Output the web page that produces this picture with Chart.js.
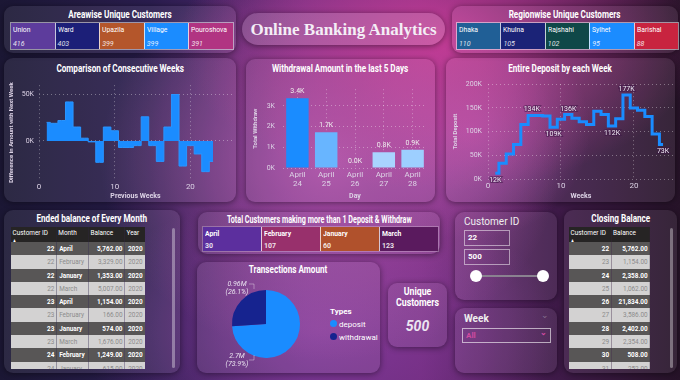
<!DOCTYPE html>
<html>
<head>
<meta charset="utf-8">
<script src="https://cdn.jsdelivr.net/npm/chart.js@4.4.1/dist/chart.umd.min.js"></script>
<style>
body{margin:0;width:680px;height:380px;overflow:hidden;position:relative;color:#fff;
  font-family:Roboto,sans-serif;
  background:
    radial-gradient(ellipse 260px 150px at 440px 40px, rgba(200,60,150,0.9), rgba(200,60,150,0) 100%),
    radial-gradient(ellipse 230px 200px at 330px 160px, rgba(180,80,170,0.9), rgba(180,80,170,0) 100%),
    radial-gradient(ellipse 120px 110px at 470px 130px, rgba(190,80,180,0.7), rgba(190,80,180,0) 100%),
    radial-gradient(ellipse 240px 140px at 320px 330px, rgba(140,60,160,0.8), rgba(140,60,160,0) 100%),
    linear-gradient(90deg,#1b1734 0%,#2a1d4e 22%,#5a2a78 45%,#6a2a78 62%,#3e1a48 82%,#261328 100%);}
.panel{position:absolute;border-radius:9px;background:rgba(255,255,255,0.08);box-shadow:0 1px 6px rgba(0,0,0,0.45);}
.ptitle{position:absolute;left:-20px;right:-20px;text-align:center;font-weight:bold;font-size:11px;line-height:12px;white-space:nowrap;}
.ptitle span,.sx{display:inline-block;transform:scaleX(0.74);}
.cards{position:absolute;display:flex;border:1px solid rgba(255,255,255,0.5);}
.card{flex:1;position:relative;border-left:1px solid rgba(255,255,255,0.75);overflow:hidden;}
.card:first-child{border-left:none;}
.card .n{position:absolute;left:2px;top:2px;font-size:8px;transform:scaleX(0.85);transform-origin:left;white-space:nowrap;}
.card .v{position:absolute;left:2px;bottom:1px;font-size:7px;font-style:italic;opacity:.85;}
#monthCards .n,#monthCards .v{font-weight:bold;font-style:normal;}
.box{position:absolute;}
.tw{position:absolute;left:0;top:0;transform:scaleX(0.8);transform-origin:0 0;}
table{border-collapse:collapse;font-size:8px;table-layout:fixed;width:100%;}
th{background:#262424;font-weight:normal;text-align:left;height:15px;padding:0 2px;vertical-align:top;line-height:11px;white-space:nowrap;}
td{height:13.3px;padding:0 3px;line-height:13.3px;white-space:nowrap;overflow:hidden;}
tr.d td{background:#585656;color:#fff;font-weight:bold;}
tr.l td{background:#d3d2d2;color:#8c8c8c;}
.scroll{position:absolute;width:3px;background:rgba(255,255,255,0.35);border-radius:2px;}
.inp{position:absolute;border:1px solid rgba(255,255,255,0.5);font-size:8px;font-weight:bold;padding-left:3px;line-height:14px;}
</style>
</head>
<body>

<!-- top row -->
<div class="panel" style="left:4px;top:6px;width:232px;height:47px;">
  <div class="ptitle" style="top:3px;"><span>Areawise Unique Customers</span></div>
  <div class="cards" id="areaCards" style="left:6px;top:16px;width:222px;height:26px;"></div>
</div>
<div class="panel" style="left:242px;top:13px;width:203px;height:32px;border-radius:16px;background:rgba(255,255,255,0.16);">
  <div style="position:absolute;left:0;right:0;top:7px;text-align:center;white-space:nowrap;font-family:'Liberation Serif',serif;font-weight:bold;font-size:17px;color:#f4eef6;">Online Banking Analytics</div>
</div>
<div class="panel" style="left:452px;top:6px;width:226px;height:47px;">
  <div class="ptitle" style="top:3px;"><span>Regionwise Unique Customers</span></div>
  <div class="cards" id="regionCards" style="left:4px;top:16px;width:221px;height:26px;"></div>
</div>

<!-- chart row -->
<div class="panel" style="left:4px;top:58px;width:232px;height:144px;">
  <div class="ptitle" style="top:5px;"><span>Comparison of Consecutive Weeks</span></div>
  <div class="box" style="left:4px;top:18px;width:226px;height:124px;"><canvas id="cmpChart"></canvas></div>
</div>
<div class="panel" style="left:246px;top:59px;width:189px;height:143px;">
  <div class="ptitle" style="top:4px;"><span>Withdrawal Amount in the last 5 Days</span></div>
  <div class="box" style="left:4px;top:18px;width:183px;height:123px;"><canvas id="wdChart"></canvas></div>
</div>
<div class="panel" style="left:446px;top:58px;width:229px;height:144px;">
  <div class="ptitle" style="top:5px;"><span>Entire Deposit by each Week</span></div>
  <div class="box" style="left:4px;top:16px;width:227px;height:126px;"><canvas id="depChart"></canvas></div>
</div>

<!-- bottom row -->
<div class="panel" style="left:4px;top:210px;width:176px;height:163px;">
  <div class="ptitle" style="top:3px;"><span>Ended balance of Every Month</span></div>
  <div class="box" style="left:7px;top:17px;width:134px;height:142px;overflow:hidden;">
    <div class="tw" style="width:167.5px;"><table id="endTable"></table></div>
  </div>
  <div class="scroll" style="left:168px;top:18px;height:140px;"></div>
</div>

<div class="panel" style="left:198px;top:212px;width:242px;height:42px;">
  <div class="ptitle" style="top:2px;font-size:10px;"><span style="transform:scaleX(0.72);">Total Customers making more than 1 Deposit &amp; Withdraw</span></div>
  <div class="cards" id="monthCards" style="left:4px;top:14px;width:235px;height:24px;border-color:rgba(255,255,255,0.25);"></div>
</div>

<div class="panel" style="left:197px;top:262px;width:183px;height:111px;">
  <div class="ptitle" style="top:2px;"><span>Transections Amount</span></div>
  <div class="box" style="left:0px;top:14px;width:110px;height:96px;"><canvas id="pieChart"></canvas></div>
  <div id="pieLegend" style="position:absolute;left:133px;top:43px;font-size:8px;line-height:13px;"></div>
</div>

<div class="panel" style="left:388px;top:283px;width:59px;height:64px;">
  <div style="position:absolute;left:-10px;right:-10px;top:3px;text-align:center;font-weight:bold;font-size:10px;line-height:11px;"><span class="sx" style="transform:scaleX(0.88);">Unique<br>Customers</span></div>
  <div id="uniqueVal" style="position:absolute;left:0;right:0;top:35px;text-align:center;font-weight:bold;font-style:italic;font-size:14px;color:#ece6f2;"></div>
</div>

<div class="panel" style="left:455px;top:212px;width:102px;height:88px;">
  <div style="position:absolute;left:9px;top:4px;font-size:10px;color:#eee;">Customer ID</div>
  <div class="inp" id="idFrom" style="left:9px;top:18px;width:41px;height:14px;"></div>
  <div class="inp" id="idTo" style="left:9px;top:37px;width:41px;height:14px;"></div>
  <div style="position:absolute;left:21px;top:63px;width:67px;height:2px;background:#8a8290;"></div>
  <div style="position:absolute;left:15px;top:58px;width:12px;height:12px;border-radius:50%;background:#fff;"></div>
  <div style="position:absolute;left:82px;top:58px;width:12px;height:12px;border-radius:50%;background:#fff;"></div>
</div>

<div class="panel" style="left:455px;top:308px;width:102px;height:65px;">
  <div style="position:absolute;left:9px;top:5px;font-size:10px;font-weight:bold;color:#eee;">Week</div>
  <div style="position:absolute;left:86px;top:2px;font-size:9px;color:rgba(255,255,255,0.3);">&#8964;</div>
  <div style="position:absolute;left:7px;top:20px;width:84px;height:13px;border:1px solid rgba(255,255,255,0.6);font-size:8px;color:#d04aa0;font-weight:bold;line-height:13px;padding-left:3px;">All<span style="position:absolute;right:3px;top:-3px;">&#8964;</span></div>
</div>

<div class="panel" style="left:564px;top:210px;width:113px;height:163px;">
  <div class="ptitle" style="top:3px;"><span>Closing Balance</span></div>
  <div class="box" style="left:5px;top:17px;width:81px;height:142px;overflow:hidden;">
    <div class="tw" style="width:101.25px;"><table id="closeTable"></table></div>
  </div>
  <div class="scroll" style="left:106px;top:18px;height:140px;"></div>
</div>

<script>
// card data
const areaNames = ['Union', 'Ward', 'Upazila', 'Village', 'Pouroshova'];
const areaCounts = [416, 403, 399, 399, 391];
const areaColors = ['#5d3c9c', '#1c1f78', '#b4562b', '#1b8cff', '#b13482'];

const regionNames = ['Dhaka', 'Khulna', 'Rajshahi', 'Sylhet', 'Barishal'];
const regionCounts = [110, 105, 102, 95, 88];
const regionColors = ['#205f96', '#1b2377', '#0f4848', '#1b8cff', '#c8243f'];

const monthNames = ['April', 'February', 'January', 'March'];
const monthCounts = [30, 107, 60, 123];
const monthColors = ['#5c2f9e', '#98306c', '#b0512c', '#5a1a5e'];

// comparison of consecutive weeks (K)
const cmpWeeks = [1,2,3,4,5,6,7,8,9,10,11,12,13,14,15,16,17,18,19,20,21,22,23];
const cmpDiff = [20,19,22,42,15,3,-1,-23,15,11,-7,-7,-5,26,-5,-22,15,50,-27,-5,-14,-33,-22];

// withdrawal last 5 days
const wdDays = [['April','24'],['April','25'],['April','26'],['April','27'],['April','28']];
const wdAmounts = [3360, 1730, 0, 760, 880];
const wdColors = ['#1a8cff', '#68b5ff', '#cde6ff', '#a9d4ff', '#9dcfff'];

// entire deposit per week (K)
const depWeeks = [1,2,3,4,5,6,7,8,9,10,11,12,13,14,15,16,17,18,19,20,21,22,23,24];
const depTotals = [12,33,53,73,115,134,134,133,109,126,136,128,121,115,143,136,112,127,177,150,145,132,95,73];
const depLabelWeeks = [1,6,9,11,17,19,24];

// transaction amounts (M)
const txTypes = ['deposit', 'withdrawal'];
const txAmounts = [2.72, 0.96];
const txColors = ['#1a8cff', '#16238f'];

const uniqueCustomers = 500;
const idRange = [22, 500];

// tables
const endRows = [
  [22,'April','5,762.00',2020],[22,'February','3,329.00',2020],[22,'January','1,353.00',2020],
  [22,'March','5,007.00',2020],[23,'April','1,154.00',2020],[23,'February','166.00',2020],
  [23,'January','574.00',2020],[23,'March','1,676.00',2020],[24,'February','1,249.00',2020],
  [24,'January','615.00',2020]
];
const closeRows = [
  [22,'5,762.00'],[23,'1,154.00'],[24,'2,358.00'],[25,'1,062.00'],[26,'21,834.00'],
  [27,'3,586.00'],[28,'2,402.00'],[29,'2,354.00'],[30,'508.00'],[31,'252.00']
];

function fillCards(id, names, values, colors) {
  const el = document.getElementById(id);
  names.forEach((n, i) => {
    const c = document.createElement('div');
    c.className = 'card';
    c.style.background = colors[i];
    c.innerHTML = '<span class="n">' + n + '</span><span class="v">' + values[i] + '</span>';
    el.appendChild(c);
  });
}
fillCards('areaCards', areaNames, areaCounts, areaColors);
fillCards('regionCards', regionNames, regionCounts, regionColors);
fillCards('monthCards', monthNames, monthCounts, monthColors);

function fillTable(id, heads, widths, aligns, rows) {
  const t = document.getElementById(id);
  let h = '<colgroup>' + widths.map(w => '<col style="width:' + w + 'px">').join('') + '</colgroup><tr>';
  heads.forEach((x, i) => {
    h += '<th>' + x + (i === 0 ? '<div style="font-size:5px;line-height:4px;">&#9650;</div>' : '') + '</th>';
  });
  h += '</tr>';
  rows.forEach((r, k) => {
    h += '<tr class="' + (k % 2 ? 'l' : 'd') + '">';
    r.forEach((v, i) => { h += '<td style="text-align:' + aligns[i] + '">' + v + '</td>'; });
    h += '</tr>';
  });
  t.innerHTML = h;
}
fillTable('endTable', ['Customer ID','Month','Balance','Year'], [57,40,45,25], ['right','left','right','right'], endRows);
fillTable('closeTable', ['Customer ID','Balance'], [53,48], ['right','right'], closeRows);

document.getElementById('uniqueVal').textContent = uniqueCustomers;
document.getElementById('idFrom').textContent = idRange[0];
document.getElementById('idTo').textContent = idRange[1];

document.getElementById('pieLegend').innerHTML = '<b>Types</b><br>' + txTypes.map((t, i) =>
  '<span style="display:inline-block;width:7px;height:7px;border-radius:50%;background:' + txColors[i] + ';margin-right:2px;"></span>' + t
).join('<br>');

// chart defaults
Chart.defaults.font.family = 'Roboto, sans-serif';
Chart.defaults.color = '#ddd3e6';
Chart.defaults.animation = false;
Chart.defaults.plugins.legend.display = false;
Chart.defaults.plugins.tooltip.enabled = false;

const gridStyle = { color: 'rgba(255,255,255,0.35)', drawTicks: false, offset: false };
const dotBorder = { display: false, dash: [1, 3] };
const tickFont = { size: 8 };
const titleFont = { size: 7, weight: 'bold' };

// Comparison of Consecutive Weeks (stepped area)
new Chart(document.getElementById('cmpChart'), {
  type: 'line',
  data: {
    datasets: [{
      data: cmpWeeks.map((w, i) => ({ x: w, y: cmpDiff[i] })),
      backgroundColor: '#1b8cff',
      borderColor: '#2a95ff',
      borderWidth: 1,
      stepped: 'middle',
      fill: 'origin',
      pointRadius: 0
    }]
  },
  options: {
    responsive: true,
    maintainAspectRatio: false,
    layout: { padding: { right: 2, top: 4 } },
    scales: {
      x: {
        type: 'linear', min: 0, max: 25.5,
        afterBuildTicks: s => { s.ticks = [0, 10, 20].map(v => ({ value: v })); },
        afterFit: s => { s.height = 20; },
        grid: gridStyle, border: dotBorder,
        ticks: { font: tickFont, padding: 2 },
        title: { display: true, text: 'Previous Weeks', font: titleFont, padding: 0 }
      },
      y: {
        min: -42, max: 60,
        afterBuildTicks: s => { s.ticks = [0, 50].map(v => ({ value: v })); },
        afterFit: s => { s.width = 31; },
        grid: gridStyle, border: dotBorder,
        ticks: { font: { size: 7 }, padding: 5, callback: v => v + 'K' },
        title: { display: true, text: 'Difference in Amount with Next Week', font: { size: 6, weight: 'bold' }, padding: 0 }
      }
    }
  }
});

// Withdrawal Amount in the last 5 Days
const barLabels = {
  id: 'barLabels',
  afterDatasetsDraw(chart) {
    const ctx = chart.ctx;
    const meta = chart.getDatasetMeta(0);
    ctx.save();
    ctx.font = '7px Roboto, sans-serif';
    ctx.fillStyle = '#eee';
    ctx.textAlign = 'center';
    meta.data.forEach((bar, i) => {
      ctx.fillText((wdAmounts[i] / 1000).toFixed(1) + 'K', bar.x, bar.y - 5);
    });
    ctx.restore();
  }
};
new Chart(document.getElementById('wdChart'), {
  type: 'bar',
  data: {
    labels: wdDays,
    datasets: [{ data: wdAmounts, backgroundColor: wdColors, barPercentage: 0.78, categoryPercentage: 1 }]
  },
  options: {
    responsive: true,
    maintainAspectRatio: false,
    layout: { padding: { right: 6, top: 2 } },
    scales: {
      x: {
        afterFit: s => { s.height = 32; },
        grid: gridStyle, border: dotBorder,
        ticks: { font: tickFont, padding: 2 },
        title: { display: true, text: 'Day', font: titleFont, padding: 0 }
      },
      y: {
        min: 0, max: 3800,
        afterBuildTicks: s => { s.ticks = [0, 1000, 2000, 3000].map(v => ({ value: v })); },
        afterFit: s => { s.width = 33; },
        grid: gridStyle, border: dotBorder,
        ticks: { font: { size: 7 }, padding: 8, callback: v => (v / 1000) + 'K' },
        title: { display: true, text: 'Total Withdraw', font: { size: 6, weight: 'bold' }, padding: 2 }
      }
    }
  },
  plugins: [barLabels]
});

// Entire Deposit by each Week
const depLabels = {
  id: 'depLabels',
  afterDatasetsDraw(chart) {
    const ctx = chart.ctx;
    const meta = chart.getDatasetMeta(0);
    ctx.save();
    ctx.font = '7px Roboto, sans-serif';
    ctx.textAlign = 'center';
    ctx.lineWidth = 2;
    ctx.strokeStyle = 'rgba(60,20,70,0.5)';
    ctx.fillStyle = '#f0eaf4';
    depLabelWeeks.forEach(w => {
      const i = depWeeks.indexOf(w);
      const p = meta.data[i];
      const up = i > 0 && depTotals[i] >= depTotals[i - 1];
      const t = depTotals[i] + 'K';
      const y = up ? p.y - 4 : p.y + 9;
      ctx.strokeText(t, p.x, y);
      ctx.fillText(t, p.x, y);
    });
    ctx.restore();
  }
};
new Chart(document.getElementById('depChart'), {
  type: 'line',
  data: {
    datasets: [{
      data: depWeeks.map((w, i) => ({ x: w, y: depTotals[i] })),
      borderColor: '#1a8cff',
      borderWidth: 3,
      stepped: 'middle',
      pointRadius: 0
    }]
  },
  options: {
    responsive: true,
    maintainAspectRatio: false,
    layout: { padding: { right: 3, top: 5 } },
    scales: {
      x: {
        type: 'linear', min: 0, max: 25.5,
        afterBuildTicks: s => { s.ticks = [0, 10, 20].map(v => ({ value: v })); },
        afterFit: s => { s.height = 21; },
        grid: gridStyle, border: dotBorder,
        ticks: { font: tickFont, padding: 2 },
        title: { display: true, text: 'Weeks', font: titleFont, padding: 0 }
      },
      y: {
        min: 0, max: 200,
        afterBuildTicks: s => { s.ticks = [0, 50, 100, 150, 200].map(v => ({ value: v })); },
        afterFit: s => { s.width = 38; },
        grid: gridStyle, border: dotBorder,
        ticks: { font: { size: 7 }, padding: 6, callback: v => v + 'K' },
        title: { display: true, text: 'Total Deposit', font: { size: 6, weight: 'bold' }, padding: 2 }
      }
    }
  },
  plugins: [depLabels]
});

// Transections Amount pie
const pieLabels = {
  id: 'pieLabels',
  afterDatasetsDraw(chart) {
    const ctx = chart.ctx;
    const meta = chart.getDatasetMeta(0);
    const total = txAmounts.reduce((a, b) => a + b, 0);
    ctx.save();
    ctx.font = 'italic 7px Roboto, sans-serif';
    ctx.fillStyle = '#e8e0ee';
    ctx.strokeStyle = 'rgba(255,255,255,0.45)';
    ctx.lineWidth = 0.8;
    ctx.textAlign = 'center';
    meta.data.forEach((arc, i) => {
      const mid = (arc.startAngle + arc.endAngle) / 2;
      const top = Math.sin(mid) < 0;
      const r = arc.outerRadius;
      const lx = arc.x - 29;
      const ly = top ? arc.y - r - 4 : arc.y + r + 0;
      const txt = txAmounts[i] >= 1 ? txAmounts[i].toFixed(1) + 'M' : txAmounts[i].toFixed(2) + 'M';
      const pct = '(' + (txAmounts[i] / total * 100).toFixed(1) + '%)';
      ctx.fillText(txt, lx, ly);
      ctx.fillText(pct, lx, ly + 8);
      ctx.beginPath();
      const jy = top ? ly - 2 : ly + 2;
      ctx.moveTo(lx + 12, jy);
      ctx.lineTo(lx + 17, jy);
      ctx.lineTo(lx + 17, top ? jy + 5 : jy - 5);
      ctx.stroke();
    });
    ctx.restore();
  }
};
new Chart(document.getElementById('pieChart'), {
  type: 'pie',
  data: {
    labels: txTypes,
    datasets: [{ data: txAmounts, backgroundColor: txColors, borderWidth: 0 }]
  },
  options: {
    responsive: true,
    maintainAspectRatio: false,
    layout: { padding: { left: 35, right: 7, top: 14, bottom: 14 } }
  },
  plugins: [pieLabels]
});
</script>
</body>
</html>
